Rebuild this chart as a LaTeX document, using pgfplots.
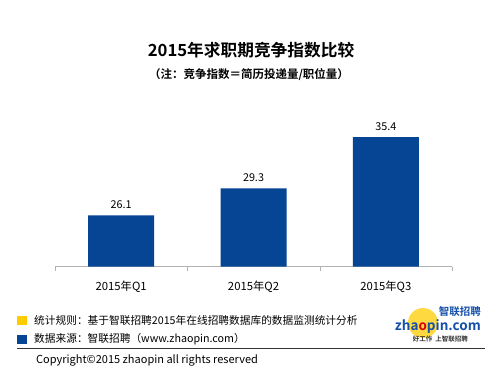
\documentclass[border=0pt]{standalone}
\usepackage{fontspec}
\setmainfont{Noto Sans CJK SC}[BoldFont={Noto Sans CJK SC Bold}]
\usepackage{pgfplots}
\pgfplotsset{compat=1.18}
\definecolor{barblue}{RGB}{5,69,148}
\definecolor{sqyellow}{RGB}{255,204,0}
\definecolor{logoblue}{RGB}{20,80,170}
\begin{document}
\begin{tikzpicture}
\path[use as bounding box, fill=white] (0,0) rectangle (500pt,-379pt);
\node[font=\bfseries\fontsize{16.7}{18}\selectfont] at (251pt,-50pt) {2015年求职期竞争指数比较};
\node[font=\bfseries\fontsize{11.5}{12}\selectfont] at (249pt,-75pt) {（注：竞争指数＝简历投递量/职位量）};
\begin{axis}[
  at={(55pt,-266.5pt)}, anchor=south west,
  scale only axis, width=397pt, height=168pt,
  xmin=-0.5, xmax=2.5, ymin=20, ymax=40,
  axis x line=bottom, axis y line=none,
  axis line style={draw=black!30, -},
  xtick={0,1,2}, xticklabels={2015年Q1,2015年Q2,2015年Q3},
  extra x ticks={-0.5,0.5,1.5,2.5}, extra x tick labels={},
  extra x tick style={major tick length=4pt, tick style={draw=black!30}, tick align=outside},
  major tick length=0pt,
  xticklabel style={font=\fontsize{11.3}{12}\selectfont, yshift=-11pt},
  ybar, bar width=66pt,
  nodes near coords, nodes near coords style={font=\fontsize{10.8}{12}\selectfont, yshift=3pt},
  /pgf/number format/fixed, /pgf/number format/precision=1, /pgf/number format/fixed zerofill,
  /pgf/number format/assume math mode=true,
  clip=false,
]
\addplot[fill=barblue, draw=none] coordinates {(0,26.1) (1,29.3) (2,35.4)};
\end{axis}
% footer
\fill[sqyellow] (17pt,-316pt) rectangle (27pt,-325pt);
\node[anchor=west, font=\fontsize{10.7}{12}\selectfont, inner sep=0pt] at (34pt,-320.5pt) {统计规则：基于智联招聘2015年在线招聘数据库的数据监测统计分析};
\fill[barblue] (17pt,-335pt) rectangle (27pt,-344pt);
\node[anchor=west, font=\fontsize{10.7}{12}\selectfont, inner sep=0pt] at (34pt,-339pt) {数据来源：智联招聘（www.zhaopin.com）};
\draw[line width=1pt, black!80] (17pt,-348pt) -- (485pt,-348pt);
\node[anchor=west, font=\fontsize{11}{12}\selectfont, inner sep=0pt] at (36pt,-360pt) {Copyright©2015 zhaopin all rights reserved};
% logo
\fill[sqyellow!75] (423pt,-323pt) circle (15pt);
\node[anchor=east, font=\bfseries\fontsize{10.5}{11}\selectfont, text=logoblue, inner sep=0pt] at (481pt,-311.5pt) {智联招聘};
\node[anchor=east, font=\bfseries\fontsize{13.5}{14}\selectfont, text=logoblue, inner sep=0pt] at (481pt,-326pt) {zha\textcolor{red!85!black}{o}pin.com};
\node[anchor=east, font=\bfseries\fontsize{6.5}{7}\selectfont, text=black!80, inner sep=0pt] at (468pt,-339pt) {好工作\ \ 上智联招聘};
\end{tikzpicture}
\end{document}
